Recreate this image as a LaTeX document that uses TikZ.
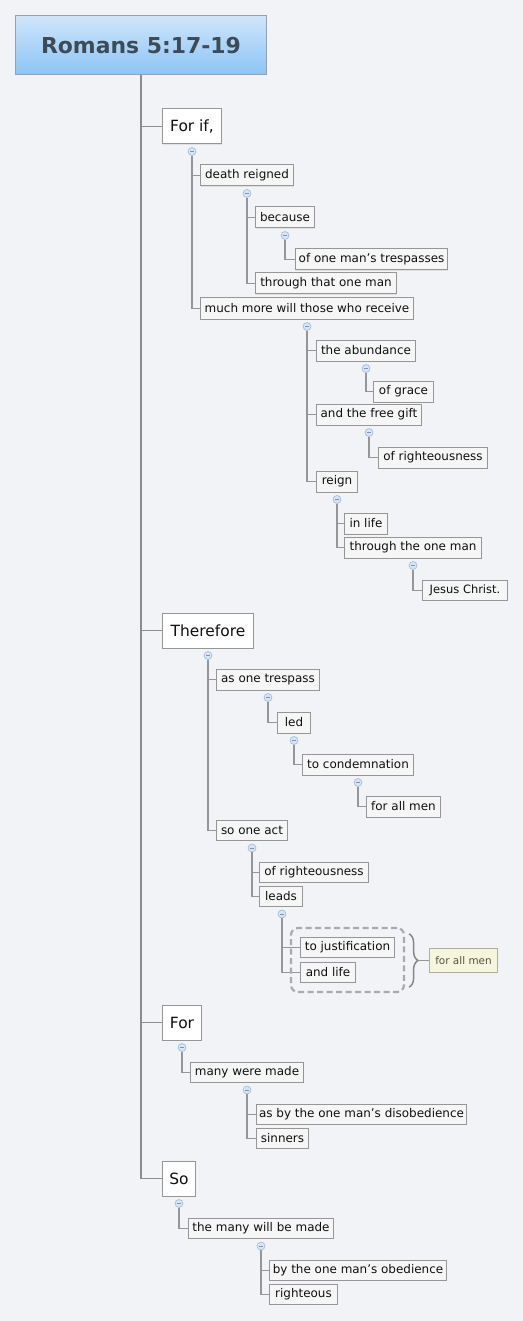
\documentclass[tikz,border=0pt]{standalone}
\usepackage{fontspec}
\setmainfont{DejaVu Sans}
\usetikzlibrary{decorations.pathreplacing,shadows,fit}
\definecolor{bg}{RGB}{241,243,247}
\definecolor{ln}{RGB}{150,150,150}
\definecolor{trk}{RGB}{140,140,140}
\definecolor{bd}{RGB}{150,150,150}
\definecolor{bx}{RGB}{246,246,246}
\definecolor{txt}{RGB}{15,15,15}
\definecolor{mkb}{RGB}{160,185,220}
\definecolor{mkf}{RGB}{214,228,246}
\definecolor{rtop}{RGB}{206,229,251}
\definecolor{rbot}{RGB}{140,196,245}
\definecolor{rbd}{RGB}{150,160,175}
\definecolor{rtxt}{RGB}{62,74,85}
\definecolor{sumf}{RGB}{246,246,222}
\definecolor{sumb}{RGB}{175,175,150}
\definecolor{sumt}{RGB}{85,85,60}
\definecolor{bnd}{RGB}{170,170,170}
\begin{document}
\begin{tikzpicture}[x=1bp,y=-1bp,
  box/.style={draw=bd, fill=bx, line width=1bp, inner sep=0pt, anchor=west,
    minimum height=21bp, font=\fontsize{12}{14}\selectfont, text=txt,
    drop shadow={shadow xshift=0.8bp, shadow yshift=-0.8bp, fill=black!12, opacity=1}},
  topbox/.style={box, fill=white, minimum height=35bp, font=\fontsize{15.5}{18}\selectfont},
  mk/.style={circle, draw=mkb, fill=mkf, minimum size=8bp, inner sep=0pt, line width=0.6bp,
    path picture={\draw[mkb!80!black, line width=0.7bp]
      ([xshift=-1.8bp]path picture bounding box.center) -- ([xshift=1.8bp]path picture bounding box.center);}},
  conn/.style={draw=ln, line width=1.3bp},
  trunk/.style={draw=trk, line width=1.8bp},
]
\fill[bg] (0,0) rectangle (523,1321);
\useasboundingbox (0,0) rectangle (523,1321);

% root
\node[draw=rbd, line width=1bp, top color=rtop, bottom color=rbot,
  minimum width=250bp, minimum height=59bp, inner sep=0pt, text=rtxt,
  font=\fontsize{22}{26}\selectfont\bfseries] (root) at (141,45.5) {Romans 5:17-19};

% level 1
\node[topbox, minimum width=59bp] (forif) at (162,126.5) {For if,};
\node[topbox, minimum width=91bp] (there) at (162,630.5) {Therefore};
\node[topbox, minimum width=39bp] (for) at (162,1022.5) {For};
\node[topbox, minimum width=33bp] (so) at (162,1178.5) {So};

% trunk
\draw[trunk] (root.south) |- (so.west);
\draw[trunk] (root.south |- forif.west) -- (forif.west);
\draw[trunk] (root.south |- there.west) -- (there.west);
\draw[trunk] (root.south |- for.west) -- (for.west);

% For if, branch
\node[box, minimum width=93bp] (dr) at (200,175.5) {death reigned};
\node[box, minimum width=59bp] (bec) at (255,217.5) {because};
\node[box, minimum width=152bp] (omt) at (295,259.5) {of one man's trespasses};
\node[box, minimum width=141bp] (ttom) at (255,283.5) {through that one man};
\node[box, minimum width=213bp] (mm) at (200,308.5) {much more will those who receive};
\node[box, minimum width=99bp] (abd) at (316,350.5) {the abundance};
\node[box, minimum width=60bp] (ogr) at (373,391.5) {of grace};
\node[box, minimum width=105bp] (fg) at (316,414.5) {and the free gift};
\node[box, minimum width=109bp] (orig) at (378,457.5) {of righteousness};
\node[box, minimum width=41bp] (reign) at (316,481.5) {reign};
\node[box, minimum width=43bp] (inl) at (344,523.5) {in life};
\node[box, minimum width=137bp] (ttom2) at (344,547.5) {through the one man};
\node[box, minimum width=85bp, minimum height=20bp, font=\fontsize{11.5}{13}\selectfont] (jc) at (422,590.5) {Jesus Christ.};

% Therefore branch
\node[box, minimum width=103bp] (aot) at (216,679.5) {as one trespass};
\node[box, minimum width=33bp] (led) at (277,722.5) {led};
\node[box, minimum width=111bp] (tcon) at (302,764.5) {to condemnation};
\node[box, minimum width=74bp] (fam) at (366,806.5) {for all men};
\node[box, minimum width=71bp, minimum height=20bp] (soa) at (216,830.5) {so one act};
\node[box, minimum width=109bp, minimum height=20bp] (ofr) at (259,872.5) {of righteousness};
\node[box, minimum width=43bp, minimum height=20bp] (leads) at (259,896.5) {leads};
\node[box, minimum width=94bp, minimum height=20bp] (tj) at (300,947.5) {to justification};
\node[box, minimum width=55bp, minimum height=20bp] (al) at (300,972.5) {and life};

% For branch
\node[box, minimum width=113bp, minimum height=20bp] (mwm) at (190,1072.5) {many were made};
\node[box, minimum width=210bp, minimum height=20bp] (abd2) at (256,1114.5) {as by the one man's disobedience};
\node[box, minimum width=52bp, minimum height=20bp] (sin) at (256,1138.5) {sinners};

% So branch
\node[box, minimum width=145bp, minimum height=20bp] (tmw) at (188,1228.5) {the many will be made};
\node[box, minimum width=177bp, minimum height=20bp] (bto) at (269,1270.5) {by the one man's obedience};
\node[box, minimum width=68bp, minimum height=20bp] (rig) at (269,1294.5) {righteous};

% markers
\foreach \p/\n in {forif/mforif, dr/mdr, bec/mbec, mm/mmm, abd/mabd, fg/mfg, reign/mreign,
  ttom2/mttom, there/mthere, aot/maot, led/mled, tcon/mtcon, soa/msoa, for/mfor,
  mwm/mmwm, so/mso, tmw/mtmw}
  \node[mk] (\n) at ([yshift=-7bp]\p.south) {};
\node[mk] (mleads) at ([xshift=1bp,yshift=-7bp]leads.south) {};

% connectors: marker to last child (vertical + elbow)
\foreach \m/\c in {mforif/mm, mdr/ttom, mbec/omt, mmm/reign,
  mabd/ogr, mfg/orig, mreign/ttom2, mttom/jc,
  mthere/soa, maot/led, mled/tcon, mtcon/fam, msoa/leads,
  mleads/al, mfor/mwm, mmwm/sin, mso/tmw, mtmw/rig}
  \draw[conn] (\m.south) |- (\c.west);
% other children: horizontal branch from the vertical line
\foreach \m/\c in {mforif/dr, mdr/bec, mmm/abd, mmm/fg, mreign/inl,
  mthere/aot, msoa/ofr, mleads/tj, mmwm/abd2, mtmw/bto}
  \draw[conn] (\m |- \c.west) -- (\c.west);

% boundary, brace and summary
\node[fit=(tj)(al), inner xsep=9bp, inner ysep=9bp, draw=bnd, line width=2.2bp,
  dash pattern=on 6bp off 3.5bp, rounded corners=7bp] (bound) {};
\coordinate (btop) at ([xshift=4bp,yshift=-7bp]bound.north east);
\coordinate (bbot) at ([xshift=4bp,yshift=6bp]bound.south east);
\draw[ln!90!black, line width=1.5bp, decorate, decoration={brace, amplitude=9bp}] (btop) -- (bbot);
\coordinate (btip) at (418,960.5);
\node[draw=sumb, fill=sumf, line width=1bp, inner sep=0pt, anchor=west, minimum width=68bp,
  minimum height=24bp, text=sumt, font=\fontsize{10.5}{12}\selectfont] (sum) at (429,960.5) {for all men};
\draw[conn] (btip) -- (sum.west);
\end{tikzpicture}
\end{document}
